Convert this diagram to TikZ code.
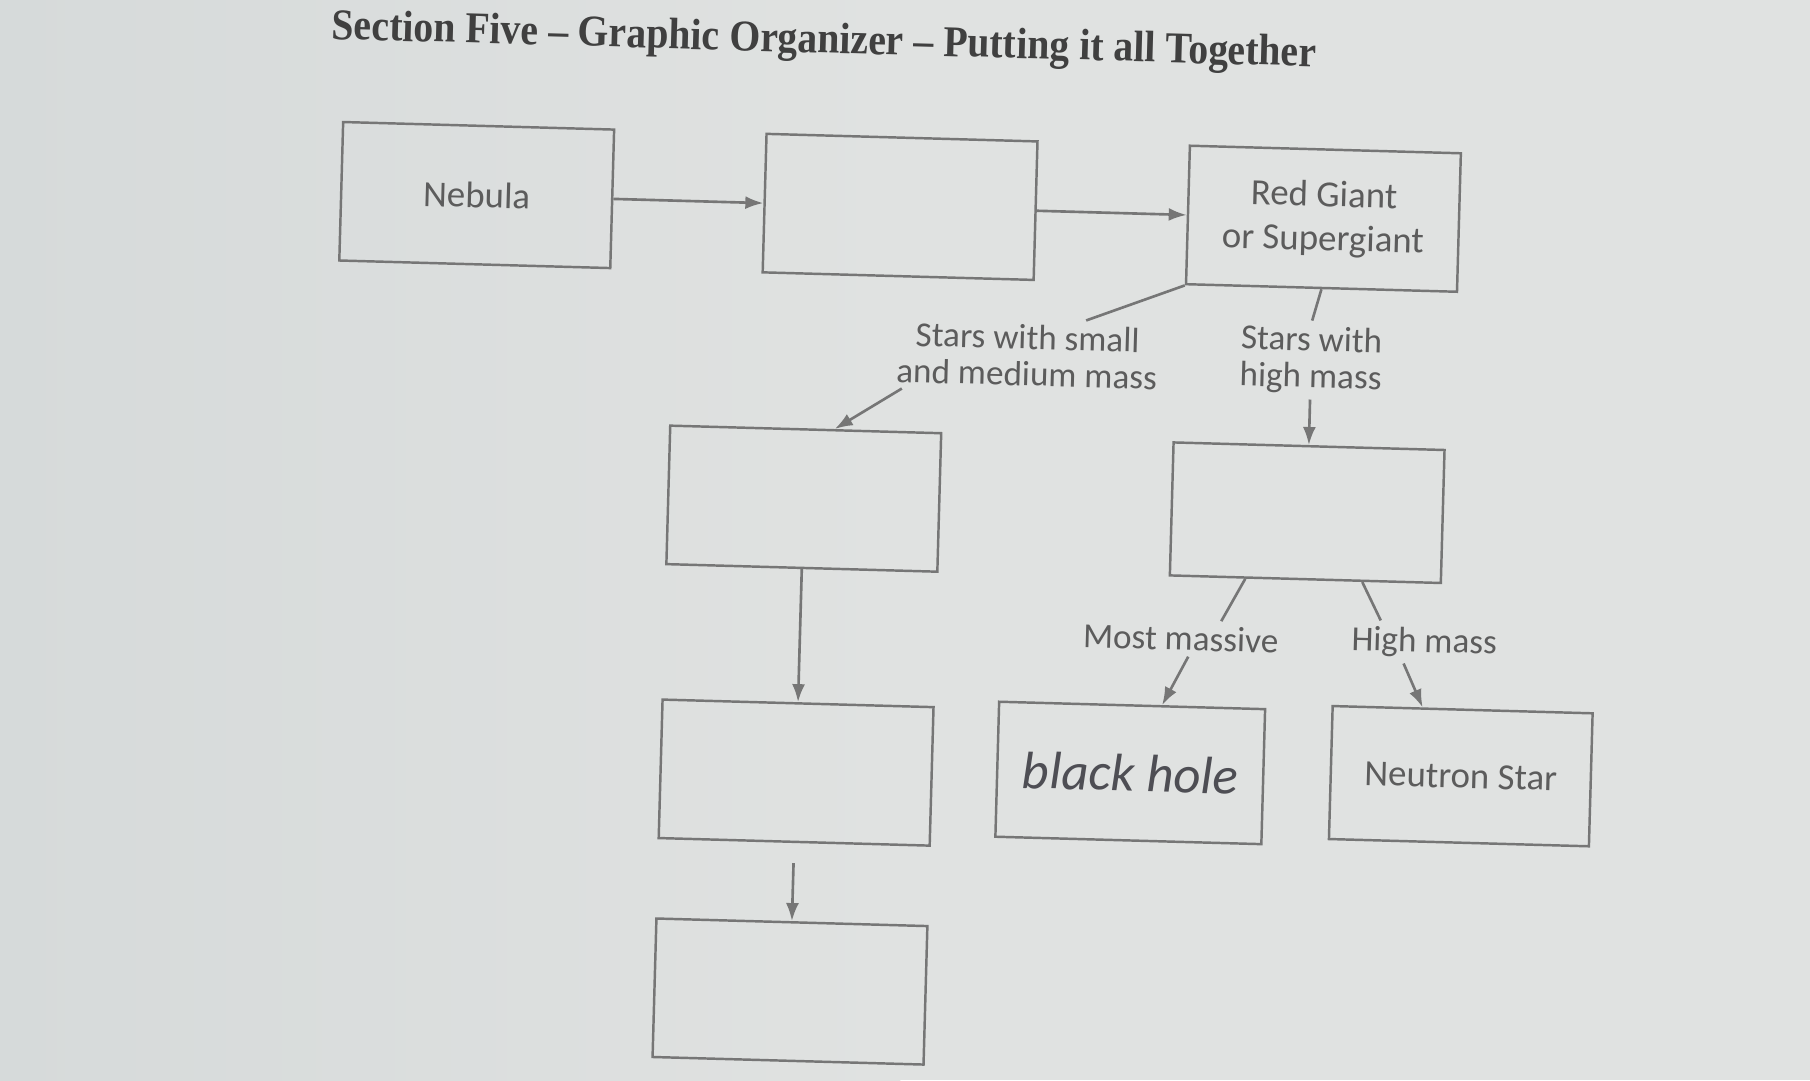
\documentclass[tikz,border=0pt]{standalone}
\usepackage{fontspec}
\setmainfont{Carlito}
\newfontfamily\titlefont{Liberation Serif}
\usetikzlibrary{calc, positioning, arrows.meta}
\definecolor{paper}{RGB}{224,226,225}
\definecolor{paperdark}{RGB}{214,218,218}
\definecolor{inkline}{RGB}{118,118,118}
\definecolor{inktext}{RGB}{92,92,92}
\definecolor{pencil}{RGB}{78,78,84}

\begin{document}
\begin{tikzpicture}[
		node distance=1.56cm and 1.5cm, % vertical and horizontal gaps between boxes
		>={Latex[length=1.8mm,width=1.3mm]},
		box/.style={
				draw=inkline,
				line width=0.7pt,
				rectangle,
				minimum width=2.71cm,
				minimum height=1.385cm,
				inner sep=0pt,
				align=center,
				text=inktext,
				font=\fontsize{10.5}{12.5}\selectfont
			},
		lbl/.style={
				align=center,
				inner sep=1.5pt,
				text=inktext,
				font=\fontsize{10}{10.4}\selectfont
			},
		link/.style={
				draw=inkline,
				line width=0.75pt
			}
	]
	% Paper
	\shade[left color=paperdark, right color=paper] (0,0) rectangle (9,10.80);
	\fill[paper] (9,0) rectangle (18.095,10.80);
	\useasboundingbox (0,0) rectangle (18.095,10.80);

	\begin{scope}[rotate around={-1.6:(9.232,5.078)}, transform shape]
		% Title
		\node[anchor=west, inner sep=0pt, xscale=0.905, text=black!75, font=\titlefont\bfseries\fontsize{12.5}{14}\selectfont, name=title] at (3.162,10.346) {Section Five – Graphic Organizer – Putting it all Together};

		% Nodes
		\node[box, name=nebula] at (4.662,8.724) {Nebula};
		\node[box, right=of nebula, name=blank_star] {};
		\node[box, right=of blank_star, name=red_giant] {Red Giant\\or Supergiant};
		\node[box, below=of red_giant, xshift=-0.08cm, minimum height=1.33cm, name=blank_high] {};
		\node[box, left=2.3cm of blank_high, name=blank_small] {};
		\node[box, below=1.33cm of blank_small, name=blank_small2] {};
		\node[box, right=0.63cm of blank_small2, yshift=0.09cm, minimum width=2.66cm, minimum height=1.35cm, name=black_hole, font=\fontsize{15}{17}\selectfont\itshape, text=pencil] {\raisebox{-0.15cm}{black hole}};
		\node[box, right=0.65cm of black_hole, yshift=0.06cm, minimum width=2.6cm, minimum height=1.33cm, name=neutron_star] {Neutron Star};
		\node[box, below=0.78cm of blank_small2, name=blank_small3] {};

		% Branch labels
		\node[lbl, name=small_lbl] at (10.208,7.275) {Stars with small\\and medium mass};
		\node[lbl, name=high_lbl] at (13.047,7.308) {Stars with\\high mass};
		\node[lbl, name=most_lbl] at (11.822,4.491) {Most massive};
		\node[lbl, name=highmass_lbl] at (14.256,4.513) {High mass};

		% Paths
		\draw[link, ->] (nebula) -- (blank_star);
		\draw[link, ->] (blank_star) -- (red_giant);
		\draw[link] (red_giant.south west) -- ([xshift=0.58cm]small_lbl.north);
		\draw[link, ->] ([xshift=0.12cm]small_lbl.south west) -- ([xshift=0.29cm]blank_small.north);
		\draw[link] (red_giant.south) -- (high_lbl.north);
		\draw[link, ->] (high_lbl) -- (blank_high);
		\draw[link, ->] (blank_small) -- (blank_small2);
		\draw[link, ->, shorten <=0.2cm] (blank_small2) -- (blank_small3);
		\draw[link] ([xshift=-0.6cm]blank_high.south) -- ([xshift=0.4cm]most_lbl.north);
		\draw[link, ->] ([xshift=0.08cm]most_lbl.south) -- ([xshift=0.3cm]black_hole.north);
		\draw[link] ([xshift=0.57cm]blank_high.south) -- ([xshift=-0.44cm]highmass_lbl.north);
		\draw[link, ->] ([xshift=-0.2cm]highmass_lbl.south) -- ([xshift=-0.4cm]neutron_star.north);
	\end{scope}
\end{tikzpicture}
\end{document}
